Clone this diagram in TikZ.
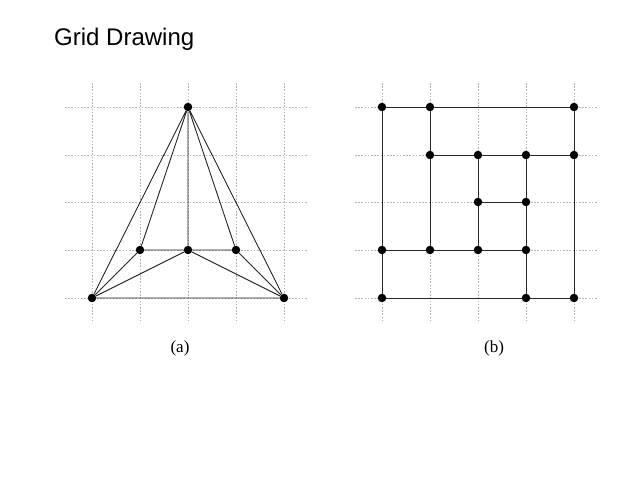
\documentclass[tikz,border=0pt]{standalone}
\usepackage{fontspec}
\setmainfont{Liberation Serif}
\newfontfamily\titlefont{Liberation Sans}
\begin{document}
\begin{tikzpicture}[x=1pt,y=-1pt,
  dot/.style={circle,fill=black,inner sep=0pt,minimum size=8.5pt},
  gridline/.style={gray!60,line width=0.7pt,dash pattern=on 1.6pt off 1.6pt},
  edge/.style={black!85,line width=0.9pt}]
\useasboundingbox (0,0) rectangle (638,478);
\node[anchor=base west,inner sep=0pt,font=\titlefont\fontsize{24}{27}\selectfont] (title) at (54,46) {Grid Drawing};
% grids
\foreach \x in {92,140,188,236,284} \draw[gridline] (\x,83) -- (\x,323);
\foreach \y in {107,155,202,250,298} \draw[gridline] (65,\y) -- (308,\y);
\foreach \x in {382,430,478,526,574} \draw[gridline] (\x,83) -- (\x,323);
\foreach \y in {107,155,202,250,298} \draw[gridline] (355,\y) -- (598,\y);
% (a)
\node[dot] (t) at (188,107) {};
\node[dot] (l) at (140,250) {};
\node[dot] (m) at (188,250) {};
\node[dot] (r) at (236,250) {};
\node[dot] (bl) at (92,298) {};
\node[dot] (br) at (284,298) {};
\draw[edge] (t) -- (bl) (t) -- (l) (t) -- (m) (t) -- (r) (t) -- (br)
  (l) -- (m) -- (r) (bl) -- (l) (bl) -- (m) (bl) -- (br) (br) -- (m) (br) -- (r);
% (b)
\node[dot] (b00) at (382,107) {};
\node[dot] (b10) at (430,107) {};
\node[dot] (b40) at (574,107) {};
\node[dot] (b11) at (430,155) {};
\node[dot] (b21) at (478,155) {};
\node[dot] (b31) at (526,155) {};
\node[dot] (b41) at (574,155) {};
\node[dot] (b22) at (478,202) {};
\node[dot] (b32) at (526,202) {};
\node[dot] (b03) at (382,250) {};
\node[dot] (b13) at (430,250) {};
\node[dot] (b23) at (478,250) {};
\node[dot] (b33) at (526,250) {};
\node[dot] (b04) at (382,298) {};
\node[dot] (b34) at (526,298) {};
\node[dot] (b44) at (574,298) {};
\draw[edge] (b00) -- (b10) -- (b40)
  (b00) -- (b03) -- (b04)
  (b10) -- (b11) -- (b13)
  (b40) -- (b41) -- (b44)
  (b11) -- (b21) -- (b31) -- (b41)
  (b21) -- (b22) -- (b23)
  (b31) -- (b32) -- (b33) -- (b34)
  (b22) -- (b32)
  (b03) -- (b13) -- (b23) -- (b33)
  (b04) -- (b34) -- (b44);
% labels
\node[font=\fontsize{17}{19}\selectfont] (la) at (180,348) {(a)};
\node[font=\fontsize{17}{19}\selectfont] (lb) at (494,348) {(b)};
\end{tikzpicture}
\end{document}
